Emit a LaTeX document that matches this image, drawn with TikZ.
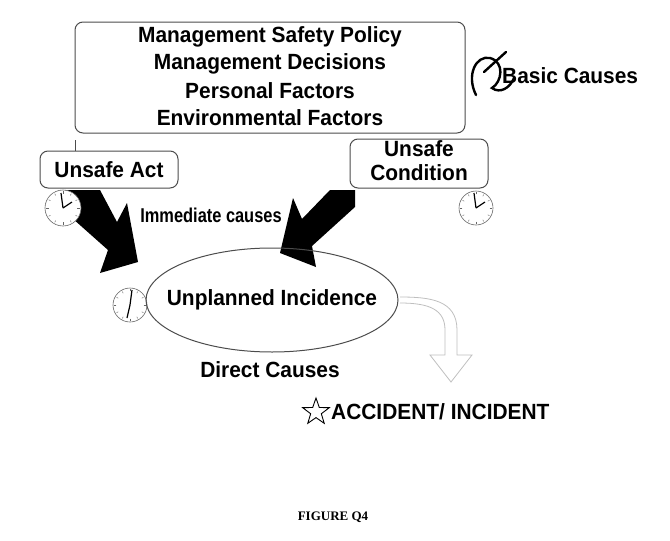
\documentclass[tikz,border=0pt]{standalone}
\usepackage{fontspec}
\setmainfont{Liberation Sans}
\newfontfamily\serf{Liberation Serif}
\usetikzlibrary{shapes.geometric}
\begin{document}
\begin{tikzpicture}[x=1pt,y=-1pt,
  lbl/.style={font=\fontsize{22}{24}\selectfont\bfseries\addfontfeature{FakeStretch=0.95},inner sep=0pt,align=center},
  rbox/.style={draw=black!70,line width=1pt,rounded corners=8pt},
  clk/.style={draw=black!60,fill=white,line width=0.6pt}]
\useasboundingbox (0,0) rectangle (670,541);
% top box
\draw[rbox] (75,22) rectangle (465,133);
\node[lbl] (l1) at (270,37) {Management Safety Policy};
\node[lbl] (l2) at (270,64) {Management Decisions};
\node[lbl] (l3) at (270,91) {Personal Factors};
\node[lbl] (l4) at (270,118) {Environmental Factors};
\draw[black!70,line width=0.8pt] (75,140) -- (75,151);
% basic causes
\draw[line width=2.4pt,line cap=round] (476,95) .. controls (466,75) and (476,55) .. (490,58) .. controls (505,62) and (502,82) .. (492,88) .. controls (500,94) and (510,88) .. (514,78);
\draw[line width=2.4pt,line cap=round] (484,72) -- (506,52);
\node[lbl,anchor=west] (bc) at (502,76) {Basic Causes};
% small boxes
\draw[rbox] (40,151) rectangle (178,188);
\node[lbl] (ua) at (109,170) {Unsafe Act};
\draw[rbox] (350,139) rectangle (488,188);
\node[lbl] (uc) at (419,161) {Unsafe\\Condition};
% black arrows
\fill (63,190) -- (100,190) -- (117,222) -- (127,203) -- (138,262) -- (100,273) -- (108,250) -- (72,218) -- cycle;
\fill (330,190) -- (355,190) -- (355,207) -- (312,246) -- (316,267) -- (280,253) -- (293,198) -- (302,219) -- cycle;
\node[lbl,font=\fontsize{20}{22}\selectfont\bfseries\addfontfeature{FakeStretch=0.82}] (ic) at (211,215) {Immediate causes};
% clocks
\foreach \cx/\cy/\r in {63/208/18,476/208/17,130/305/17}{
  \draw[clk] (\cx,\cy) circle (\r);
  \foreach \a in {0,30,...,330} \draw[black!60] ({\cx+0.8*\r*cos(\a)},{\cy+0.8*\r*sin(\a)}) -- ({\cx+0.92*\r*cos(\a)},{\cy+0.92*\r*sin(\a)});
}
\draw[line width=1.2pt] (63,208) -- (61,193) (63,208) -- (72,202);
\draw[line width=1.2pt] (476,208) -- (474,193) (476,208) -- (485,202);
\draw[line width=1.2pt] (130,305) -- (132,290) (130,305) -- (127,318);
% ellipse
\node[ellipse,draw=black!70,line width=1pt,minimum width=252pt,minimum height=104pt] (ui) at (272,300) {};
\node[lbl] (uit) at (272,300) {Unplanned Incidence};
% hollow curved arrow
\draw[black!25,line width=0.8pt] (400,303) .. controls (430,303) and (445,310) .. (445,330) -- (445,355) -- (430,355) -- (451,382) -- (472,355) -- (457,355) -- (457,330) .. controls (457,300) and (430,297) .. (400,297);
\node[lbl] (dc) at (270,370) {Direct Causes};
% star
\node[star,star points=5,star point ratio=2.5,draw=black,line width=0.9pt,minimum size=28pt,inner sep=0pt] (st) at (316,412) {};
\node[lbl,anchor=west] (acc) at (331,412) {ACCIDENT/ INCIDENT};
\node[font=\serf\bfseries\fontsize{13}{15}\selectfont] (fig) at (333,517) {FIGURE Q4};
\end{tikzpicture}
\end{document}
